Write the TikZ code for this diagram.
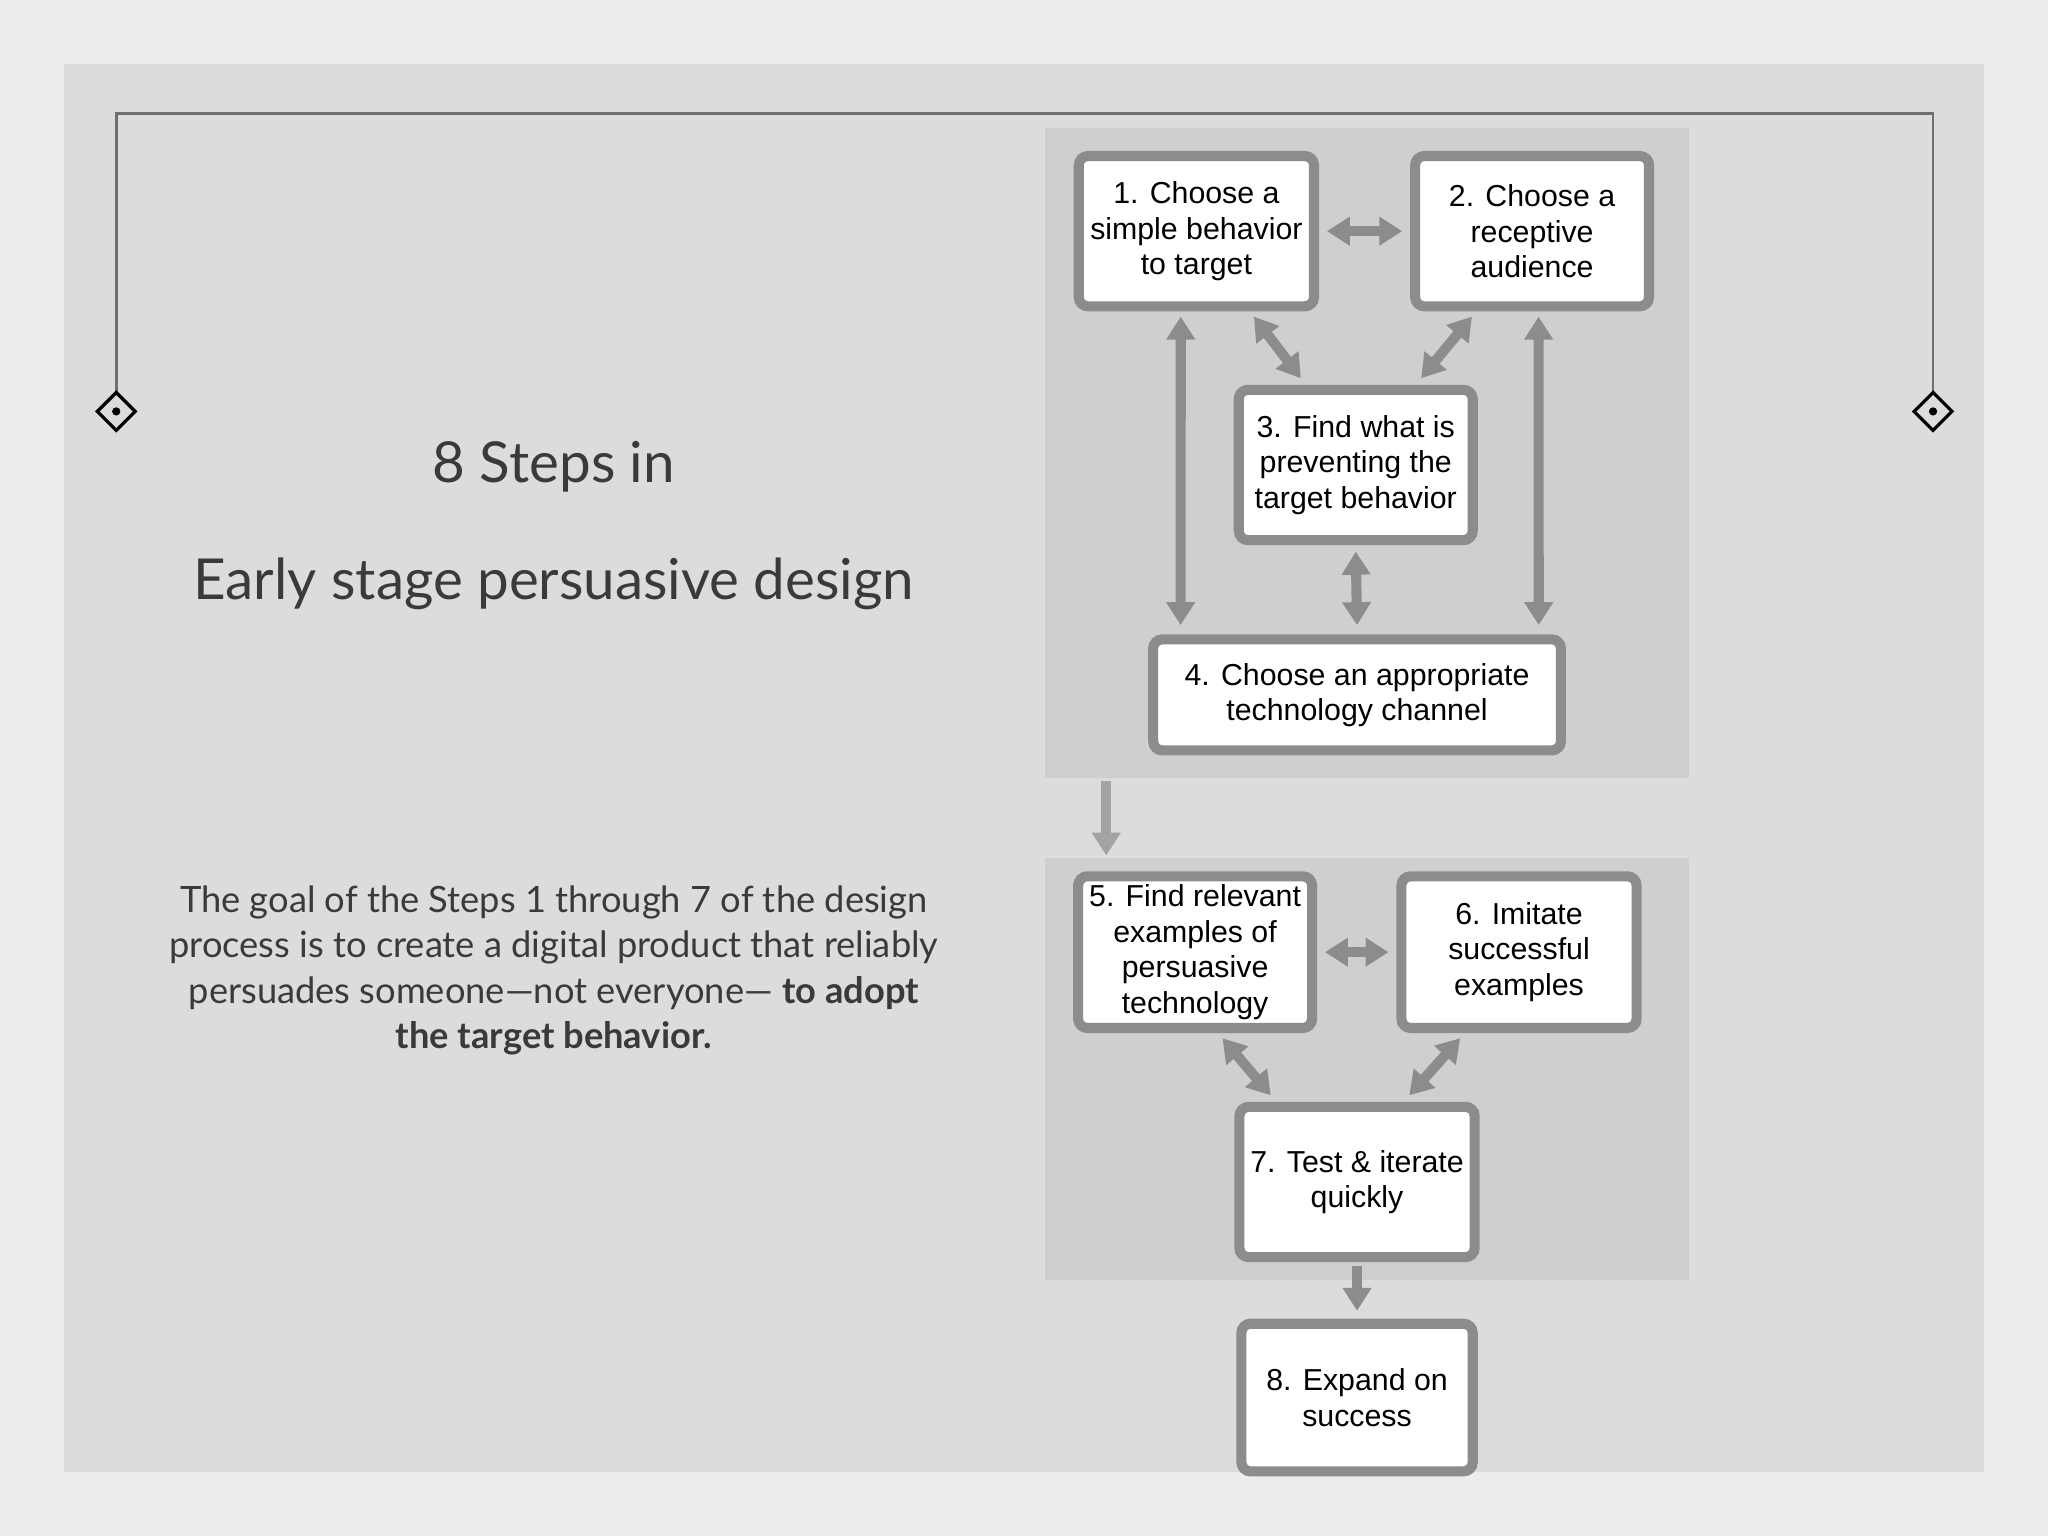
\documentclass[tikz,border=0pt]{standalone}
\usepackage{fontspec}
\setmainfont{Lato}
\newfontfamily\boxfont{Liberation Sans}
\usetikzlibrary{arrows.meta,shapes.geometric}
\definecolor{pagebg}{HTML}{EDEDED}
\definecolor{panel}{HTML}{DCDCDD}
\definecolor{group}{HTML}{CFCFD0}
\definecolor{edge}{HTML}{8C8C8C}
\definecolor{txt}{HTML}{3A3A3A}
\tikzset{
  stepbox/.style={draw=edge,line width=2.2pt,fill=white,rounded corners=2pt,align=center,font=\boxfont\fontsize{6.6}{7.7}\selectfont,text=black,inner sep=0pt},
  link/.style={draw=edge,line width=2.2pt,{Triangle[length=5pt,width=6pt]}-{Triangle[length=5pt,width=6pt]}},
  onelink/.style={draw=edge,line width=2.2pt,-{Triangle[length=5pt,width=6pt]}},
}
\begin{document}
\begin{tikzpicture}[x=0.01cm,y=-0.01cm]
\useasboundingbox (0,0) rectangle (1568,1176);
\fill[pagebg] (0,0) rectangle (1568,1176);
\fill[panel] (49,49) rectangle (1519,1127);
\draw[edge!80!black,line width=0.6pt] (89,305) -- (89,87) -- (1480,87) -- (1480,305);
\node[diamond,draw=black,fill=panel,line width=0.7pt,minimum size=0.3cm,inner sep=0pt] (d1) at (89,315) {};
\node[diamond,draw=black,fill=panel,line width=0.7pt,minimum size=0.3cm,inner sep=0pt] (d2) at (1480,315) {};
\fill (d1) circle (0.9pt); \fill (d2) circle (0.9pt);
\node[text=txt,font=\fontsize{12.3}{15}\selectfont] (t1) at (424,357) {8 Steps in};
\node[text=txt,font=\fontsize{12.3}{15}\selectfont] (t2) at (424,447) {Early stage persuasive design};
\node[text=txt,align=center,font=\fontsize{7.9}{9.9}\selectfont] (body) at (424,743) {The goal of the Steps 1 through 7 of the design\\process is to create a digital product that reliably\\persuades someone---not everyone--- \textbf{to adopt}\\\textbf{the target behavior.}};
\fill[group] (800,98) rectangle (1293,596);
\fill[group] (800,657) rectangle (1293,980);
\node[stepbox,minimum width=1.80cm,minimum height=1.15cm] (s1) at (916,177) {1. Choose a\\simple behavior\\to target};
\node[stepbox,minimum width=1.79cm,minimum height=1.15cm] (s2) at (1173,177) {2. Choose a\\receptive\\audience};
\node[stepbox,minimum width=1.79cm,minimum height=1.15cm] (s3) at (1038,356) {3. Find what is\\preventing the\\target behavior};
\node[stepbox,minimum width=3.12cm,minimum height=0.85cm] (s4) at (1039,532) {4. Choose an appropriate\\technology channel};
\node[stepbox,minimum width=1.79cm,minimum height=1.16cm] (s5) at (915,729) {5. Find relevant\\examples of\\persuasive\\technology};
\node[stepbox,minimum width=1.80cm,minimum height=1.16cm] (s6) at (1163,729) {6. Imitate\\successful\\examples};
\node[stepbox,minimum width=1.80cm,minimum height=1.15cm] (s7) at (1039,905) {7. Test \& iterate\\quickly};
\node[stepbox,minimum width=1.77cm,minimum height=1.13cm] (s8) at (1039,1070) {8. Expand on\\success};
\draw[link] ([xshift=0.06cm]s1.east) -- ([xshift=-0.06cm]s2.west);
\draw[link] ([xshift=-0.12cm,yshift=-0.04cm]s1.south) -- ([xshift=-1.35cm,yshift=0.07cm]s4.north);
\draw[link] ([xshift=0.05cm,yshift=-0.04cm]s2.south) -- ([xshift=1.39cm,yshift=0.07cm]s4.north);
\draw[link] ([xshift=0.44cm,yshift=-0.04cm]s1.south) -- ([xshift=-0.42cm,yshift=0.05cm]s3.north);
\draw[link] ([xshift=-0.46cm,yshift=-0.04cm]s2.south) -- ([xshift=0.50cm,yshift=0.05cm]s3.north);
\draw[link] ([yshift=-0.05cm]s3.south) -- ([yshift=0.07cm]s4.north);
\draw[onelink,draw=edge!80!white] (847,598) coordinate (g1) -- (847,655) coordinate (g2);
\draw[link] ([xshift=0.06cm]s5.east) -- ([xshift=-0.06cm]s6.west);
\draw[link] ([xshift=0.21cm,yshift=-0.04cm]s5.south) -- ([xshift=-0.66cm,yshift=0.05cm]s7.north);
\draw[link] ([xshift=-0.45cm,yshift=-0.04cm]s6.south) -- ([xshift=0.40cm,yshift=0.05cm]s7.north);
\draw[onelink] ([yshift=-0.03cm]s7.south) -- ([yshift=0.06cm]s8.north);
\end{tikzpicture}
\end{document}
